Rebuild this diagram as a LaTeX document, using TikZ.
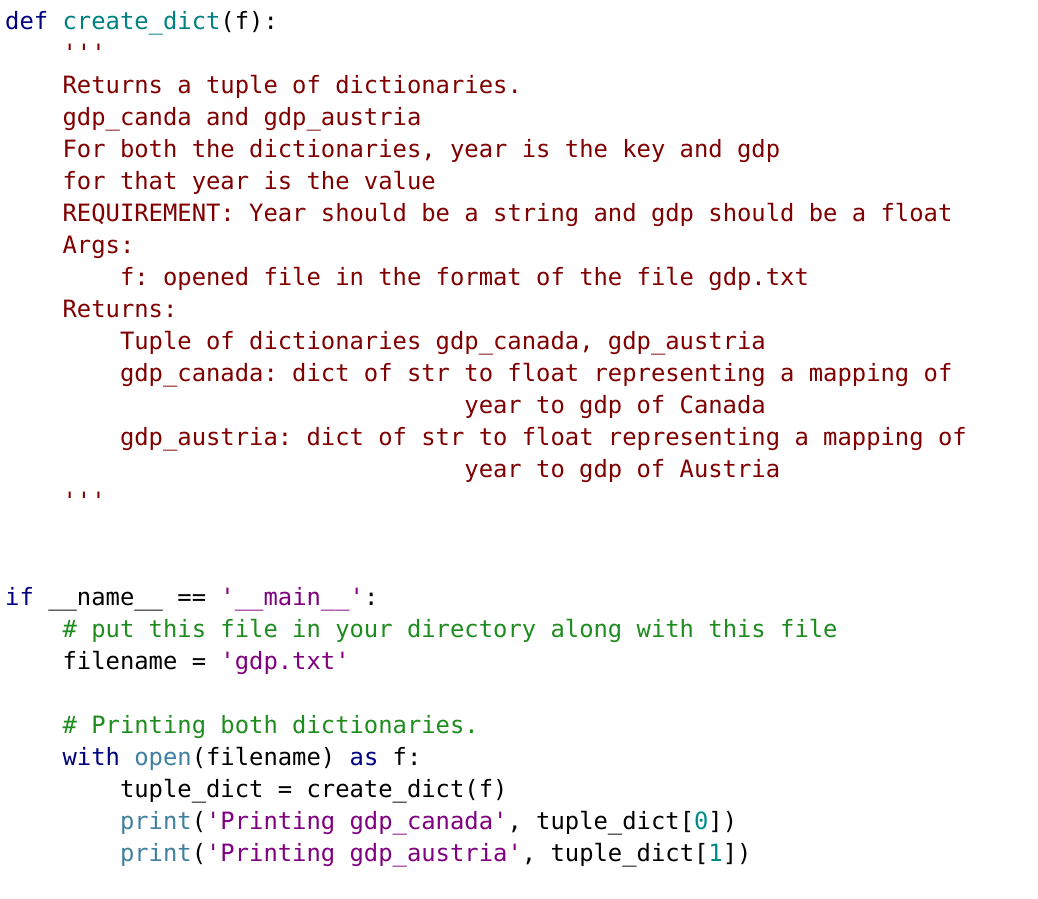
\documentclass[tikz,border=0pt]{standalone}
\usepackage{fontspec}
\setmonofont{DejaVu Sans Mono}
\definecolor{kw}{HTML}{000080}
\definecolor{fn}{HTML}{008080}
\definecolor{bi}{HTML}{3F7F9F}
\definecolor{doc}{HTML}{800000}
\definecolor{str}{HTML}{800080}
\definecolor{cmt}{HTML}{1E8C1E}
\definecolor{num}{HTML}{008B8B}
\newcommand\codeln[4]{\node[code,name=#1] at ({5pt+14.35pt*#2},{-29pt-32pt*(#3-1)}) {#4};}
\begin{document}
\begin{tikzpicture}[code/.style={anchor=base west,inner sep=0pt,font=\fontsize{23.84}{32}\ttfamily}]
\useasboundingbox (0,0) rectangle (1038pt,-898pt);
\codeln{l1}{0}{1}{\color{kw}def \color{fn}create\_dict\color{black}(f):}
\codeln{l2}{4}{2}{\color{doc}'''}
\codeln{l3}{4}{3}{\color{doc}Returns a tuple of dictionaries.}
\codeln{l4}{4}{4}{\color{doc}gdp\_canda and gdp\_austria}
\codeln{l5}{4}{5}{\color{doc}For both the dictionaries, year is the key and gdp}
\codeln{l6}{4}{6}{\color{doc}for that year is the value}
\codeln{l7}{4}{7}{\color{doc}REQUIREMENT: Year should be a string and gdp should be a float}
\codeln{l8}{4}{8}{\color{doc}Args:}
\codeln{l9}{8}{9}{\color{doc}f: opened file in the format of the file gdp.txt}
\codeln{l10}{4}{10}{\color{doc}Returns:}
\codeln{l11}{8}{11}{\color{doc}Tuple of dictionaries gdp\_canada, gdp\_austria}
\codeln{l12}{8}{12}{\color{doc}gdp\_canada: dict of str to float representing a mapping of}
\codeln{l13}{32}{13}{\color{doc}year to gdp of Canada}
\codeln{l14}{8}{14}{\color{doc}gdp\_austria: dict of str to float representing a mapping of}
\codeln{l15}{32}{15}{\color{doc}year to gdp of Austria}
\codeln{l16}{4}{16}{\color{doc}'''}
\codeln{l19}{0}{19}{\color{kw}if \color{black}\_\_name\_\_ == \color{str}'\_\_main\_\_'\color{black}:}
\codeln{l20}{4}{20}{\color{cmt}\# put this file in your directory along with this file}
\codeln{l21}{4}{21}{filename = \color{str}'gdp.txt'}
\codeln{l23}{4}{23}{\color{cmt}\# Printing both dictionaries.}
\codeln{l24}{4}{24}{\color{kw}with \color{bi}open\color{black}(filename) \color{kw}as \color{black}f:}
\codeln{l25}{8}{25}{tuple\_dict = create\_dict(f)}
\codeln{l26}{8}{26}{\color{bi}print\color{black}(\color{str}'Printing gdp\_canada'\color{black}, tuple\_dict[\color{num}0\color{black}])}
\codeln{l27}{8}{27}{\color{bi}print\color{black}(\color{str}'Printing gdp\_austria'\color{black}, tuple\_dict[\color{num}1\color{black}])}
\end{tikzpicture}
\end{document}
